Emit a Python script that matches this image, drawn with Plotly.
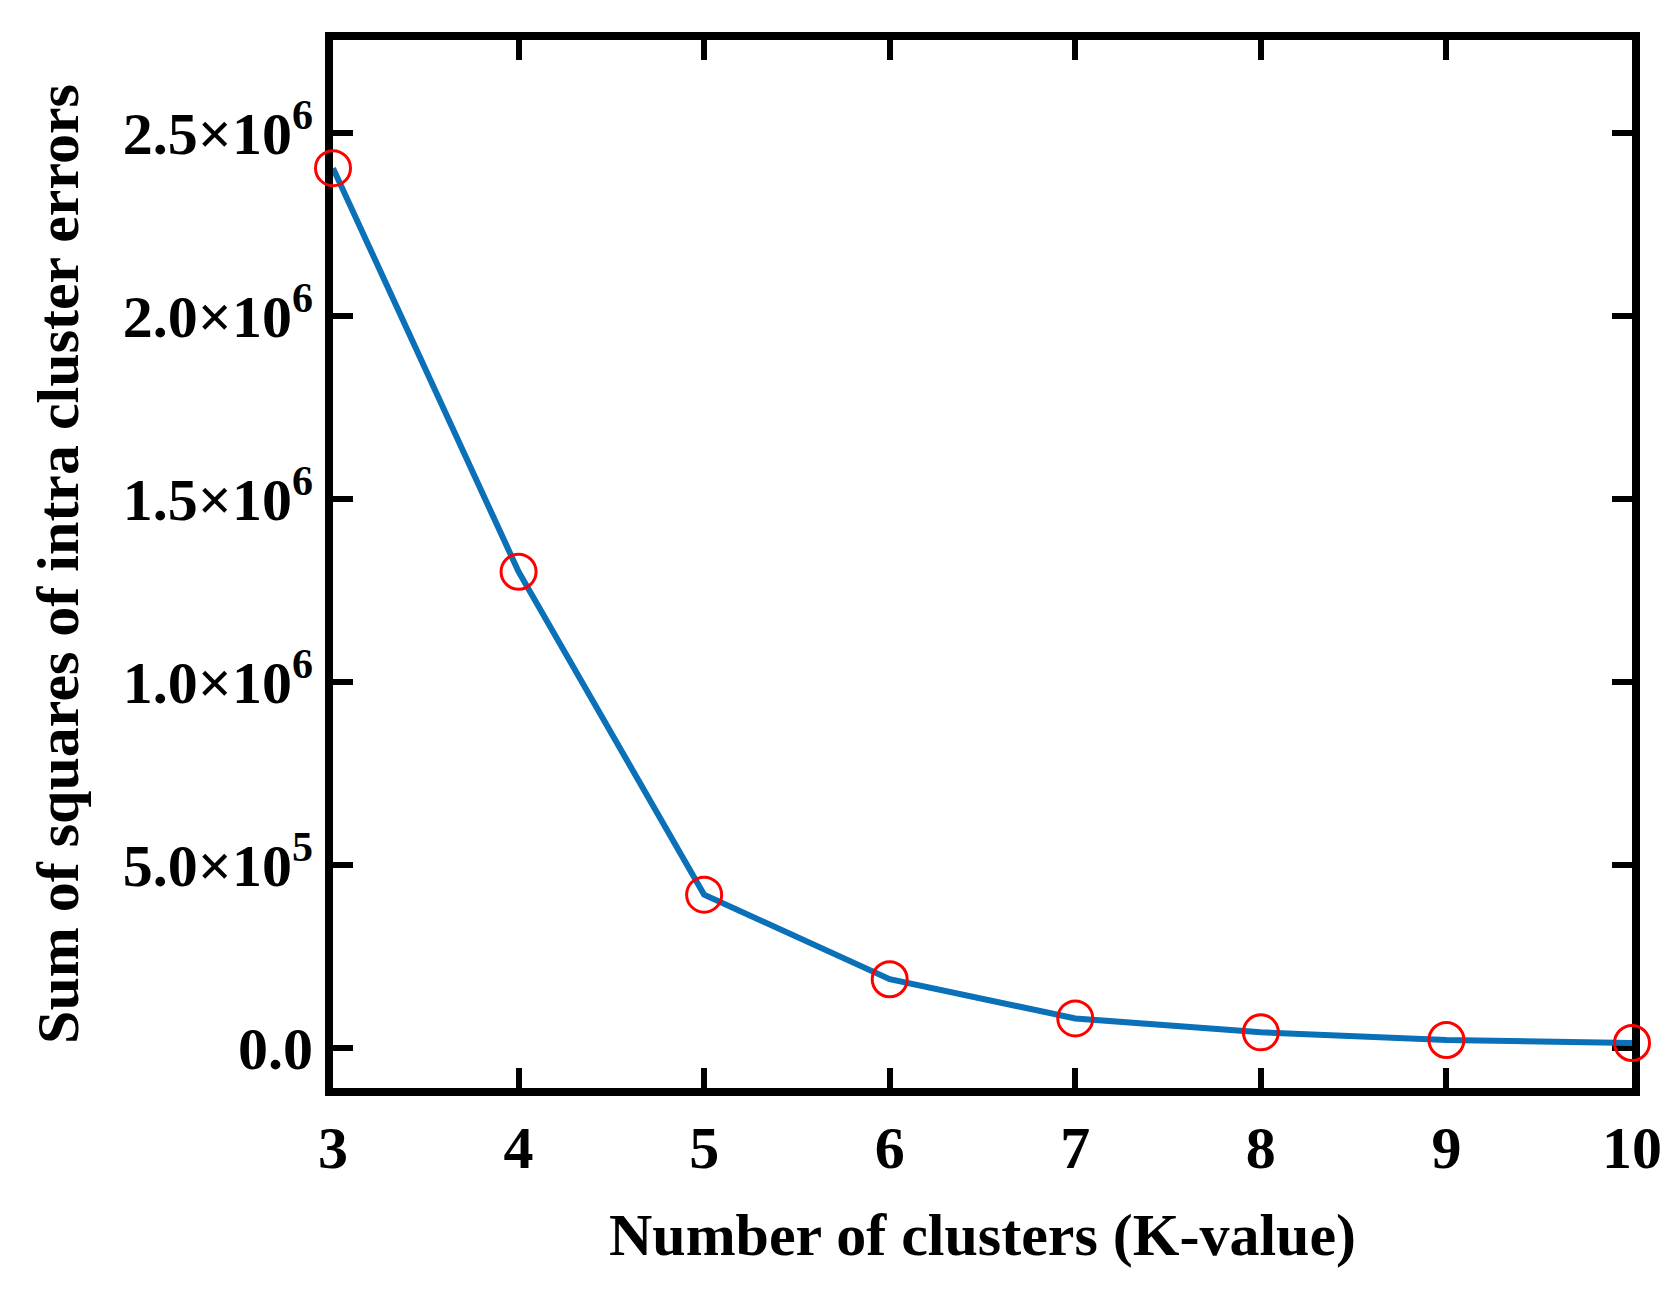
import plotly.graph_objects as go

k_values = [3, 4, 5, 6, 7, 8, 9, 10]
sse_values = [2.404e6, 1.302e6, 0.420e6, 0.189e6, 0.082e6, 0.044e6, 0.023e6, 0.015e6]

y_tickvals = [0, 0.5e6, 1.0e6, 1.5e6, 2.0e6, 2.5e6]
y_ticktext = ["0.0", "5.0×10<sup>5</sup>", "1.0×10<sup>6</sup>", "1.5×10<sup>6</sup>",
              "2.0×10<sup>6</sup>", "2.5×10<sup>6</sup>"]
x_tickvals = [3, 4, 5, 6, 7, 8, 9, 10]

FONT = "Liberation Serif"

fig = go.Figure()
fig.add_trace(go.Scatter(
    x=k_values, y=sse_values, mode="lines",
    line=dict(color="#0A70B8", width=6),
    cliponaxis=False, showlegend=False,
))
fig.add_trace(go.Scatter(
    x=k_values, y=sse_values, mode="markers",
    marker=dict(symbol="circle-open", size=35, color="#FF0000", line=dict(width=3, color="#FF0000")),
    cliponaxis=False, showlegend=False,
))

axis_common = dict(
    showline=True, linewidth=8, linecolor="black", mirror="ticks",
    ticks="inside", ticklen=20, tickwidth=6, tickcolor="black",
    showgrid=False, zeroline=False,
    tickfont=dict(family=FONT, size=60, color="black"),
    layer="below traces",
)

fig.update_layout(
    width=1679, height=1289,
    paper_bgcolor="white", plot_bgcolor="white",
    margin=dict(l=325, r=55, t=32, b=209),
    font=dict(family=FONT, color="black"),
    xaxis=dict(
        range=[3, 10], tickvals=x_tickvals,
        ticktext=[f"<b>{v}</b>" for v in x_tickvals],
        title=dict(text="<b>Number of clusters (K-value)</b>", font=dict(family=FONT, size=60, color="black"), standoff=36),
        **axis_common,
    ),
    yaxis=dict(
        range=[-0.108e6, 2.754e6], tickvals=y_tickvals,
        ticktext=[f"<b>{t}</b>" for t in y_ticktext],
        title=dict(text="<b>Sum of squares of intra cluster errors</b>", font=dict(family=FONT, size=60, color="black"), standoff=28),
        **axis_common,
    ),
)

fig.write_html("out.html")
